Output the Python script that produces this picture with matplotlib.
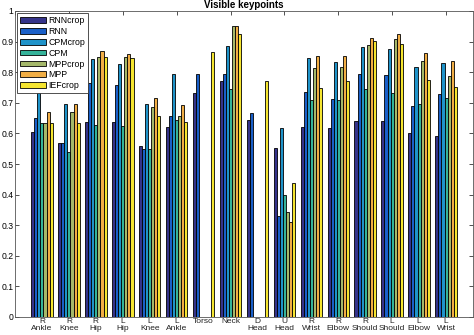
import matplotlib
matplotlib.use("Agg")
import matplotlib.pyplot as plt
import numpy as np

plt.rcParams['font.family'] = ['Liberation Sans', 'DejaVu Sans']

# keypoint groups (two-line tick labels)
keypoints = ["R\nAnkle", "R\nKnee", "R\nHip", "L\nHip", "L\nKnee", "L\nAnkle",
             "Torso", "Neck", "D\nHead", "U\nHead", "R\nWrist", "R\nElbow",
             "R\nShould", "L\nShould", "L\nElbow", "L\nWrist"]
methods = ["RNNcrop", "RNN", "CPMcrop", "CPM", "MPPcrop", "MPP", "IEFcrop"]
nan = np.nan

rnn_crop = [0.604, 0.567, 0.638, 0.638, 0.560, 0.622, 0.731, 0.771, 0.644, 0.553, 0.622, 0.619, 0.642, 0.641, 0.602, 0.592]
rnn      = [0.649, 0.567, 0.764, 0.758, 0.548, 0.657, 0.794, 0.794, 0.666, 0.330, 0.734, 0.712, 0.794, 0.791, 0.691, 0.728]
cpm_crop = [0.767, 0.696, 0.842, 0.827, 0.695, 0.793, nan,   0.886, nan,   0.617, 0.845, 0.833, 0.882, 0.875, 0.818, 0.829]
cpm      = [0.633, 0.538, 0.627, 0.624, 0.548, 0.644, nan,   0.744, nan,   0.399, 0.709, 0.709, 0.744, 0.733, 0.695, 0.715]
mpp_crop = [0.633, 0.671, 0.849, 0.851, 0.685, 0.657, nan,   0.952, nan,   0.343, 0.815, 0.816, 0.888, 0.907, 0.835, 0.788]
mpp      = [0.671, 0.696, 0.869, 0.859, 0.715, 0.693, nan,   0.952, nan,   0.311, 0.854, 0.854, 0.911, 0.924, 0.864, 0.837]
ief_crop = [0.633, 0.633, 0.851, 0.845, 0.658, 0.636, 0.865, 0.925, 0.772, 0.437, 0.747, 0.771, 0.903, 0.891, 0.775, 0.753]

series = [rnn_crop, rnn, cpm_crop, cpm, mpp_crop, mpp, ief_crop]
colors = ["#35338a", "#1a5fc8", "#1f93c9", "#35b39a", "#a5b86a", "#f1ae45", "#f5e530"]

fig = plt.figure(figsize=(4.74, 3.35), dpi=100)
ax = fig.add_axes([15/474, 1 - 317/335, 458/474, 306/335])

x = np.arange(1, len(keypoints) + 1)
n = len(series)
w = 0.8 / n
for i, (vals, col, lab) in enumerate(zip(series, colors, methods)):
    ax.bar(x + (i - (n - 1) / 2) * w, vals, width=w, color=col,
           edgecolor="black", linewidth=0.6, label=lab)

ax.set_xlim(0, 17)
ax.set_ylim(0, 1)
ax.set_xticks(x)
ax.set_xticklabels(keypoints, fontsize=6, linespacing=0.85, color="#222222")
ax.set_yticks(np.arange(0, 1.01, 0.1))
ax.set_yticklabels(["0"] + [f"{v:.1f}" for v in np.arange(0.1, 1.0, 0.1)] + ["1"], fontsize=6.2)
ax.tick_params(axis="x", length=0, pad=1)
ax.tick_params(axis="y", direction="in", length=3, right=True, width=0.6, pad=1,
               colors="#333333", labelcolor="black")
for s in ax.spines.values():
    s.set_linewidth(0.6)
    s.set_color("#555555")

top = ax.secondary_xaxis("top")
top.set_xticks(np.arange(0, 17, 2))
top.tick_params(direction="in", length=3, width=0.6, labeltop=False, colors="#333333")
top.spines["top"].set_visible(False)

ax.set_title("Visible keypoints", fontsize=7, fontweight="bold", pad=2)

leg = ax.legend(loc="upper left", fontsize=6.3, handlelength=3.0, handleheight=0.65,
                labelspacing=0.22, borderpad=0.3, handletextpad=0.25,
                borderaxespad=0.25, fancybox=False, framealpha=1)
leg.get_frame().set_edgecolor("#333333")
leg.get_frame().set_linewidth(0.6)

fig.savefig("out.png", dpi=100)
